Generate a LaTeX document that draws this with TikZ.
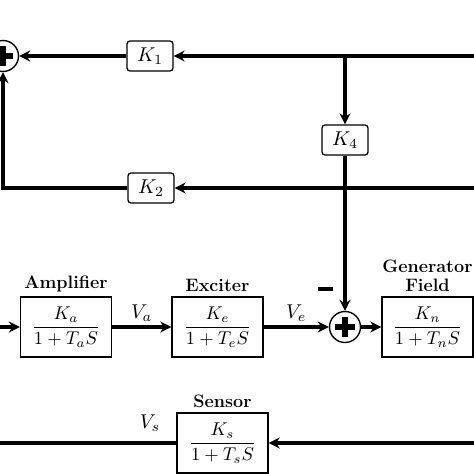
\documentclass[tikz,border=0pt]{standalone}
\usepackage{amsmath}
\usepackage{amssymb}
\usepackage{graphicx}
\usepackage{tikz}
\usetikzlibrary{arrows.meta, positioning, calc}

\newcommand{\blockfrac}[2]{\scalebox{1.85}{$\dfrac{#1}{#2}$}}
\newcommand{\bigsym}[1]{\scalebox{2}{$#1$}}

\begin{document}
\begin{tikzpicture}[
    x=1pt, y=-1pt,
    block/.style={rectangle, draw, line width=1.4pt, minimum width=91pt, minimum height=60pt, inner sep=0pt},
    gain/.style={rectangle, draw, line width=1.3pt, rounded corners=3pt, minimum width=46pt, minimum height=30pt, inner sep=0pt},
    sumjunc/.style={circle, draw, line width=1.4pt, fill=white, minimum size=31pt, inner sep=0pt,
        path picture={\draw[line width=6pt] ($(path picture bounding box.center)+(-10pt,0)$) -- ++(20pt,0);
                      \draw[line width=6pt] ($(path picture bounding box.center)+(0,-10pt)$) -- ++(0,20pt);}},
    title/.style={font=\fontsize{18}{19}\selectfont\bfseries, align=center},
    arrow/.style={line width=4pt, -{Stealth[length=11pt, width=11pt]}},
    wire/.style={line width=4pt}
]
\clip (0,0) rectangle (474,474);

% feedback gains
\node (sumA) [sumjunc] at (3,56) {};
\node (kOne) [gain] at (150,56) {\bigsym{K_1}};
\node (kTwo) [gain] at (151,188) {\bigsym{K_2}};
\node (kFour) [gain] at (345,140) {\bigsym{K_4}};

% forward path
\node (amp) [block] at (66,327) {\blockfrac{K_a}{1+T_aS}};
\node (exc) [block] at (217.5,327) {\blockfrac{K_e}{1+T_eS}};
\node (sumB) [sumjunc] at (345,327) {};
\node (gen) [block] at (427.5,327) {\blockfrac{K_n}{1+T_nS}};
\node (sens) [block] at (222.5,443) {\blockfrac{K_s}{1+T_sS}};

\node [title, above=1pt of amp] {Amplifier};
\node [title, above=1pt of exc] {Exciter};
\node [title, above=1pt of gen, text depth=0pt] {Generator\\Field};
\node [title, above=1pt of sens] {Sensor};

% free ends
\coordinate (topR) at (474,56);
\coordinate (tap) at (345,56);
\coordinate (midR) at (474,188);
\coordinate (inL) at (0,327);
\coordinate (sensR) at (474,443);
\coordinate (outL) at (0,443);

% connectors
\draw [arrow] (topR) -- (kOne);
\draw [arrow] (kOne) -- (sumA);
\draw [arrow] (tap) -- (kFour);
\draw [arrow] (kFour) -- (sumB);
\draw [arrow] (midR) -- (kTwo);
\draw [arrow] (kTwo) -| (sumA);
\draw [arrow] (inL) -- (amp);
\draw [arrow] (amp) -- node[above] {\bigsym{V_a}} (exc);
\draw [arrow] (exc) -- node[above] {\bigsym{V_e}} (sumB);
\draw [arrow] (sumB) -- (gen);
\draw [arrow] (sensR) -- (sens);
\draw [wire] (sens) -- (outL);

\node (vs) at (150,423) {\bigsym{V_s}};
\node (minus) at (325,289) {\rule{15pt}{4pt}};

\end{tikzpicture}
\end{document}
